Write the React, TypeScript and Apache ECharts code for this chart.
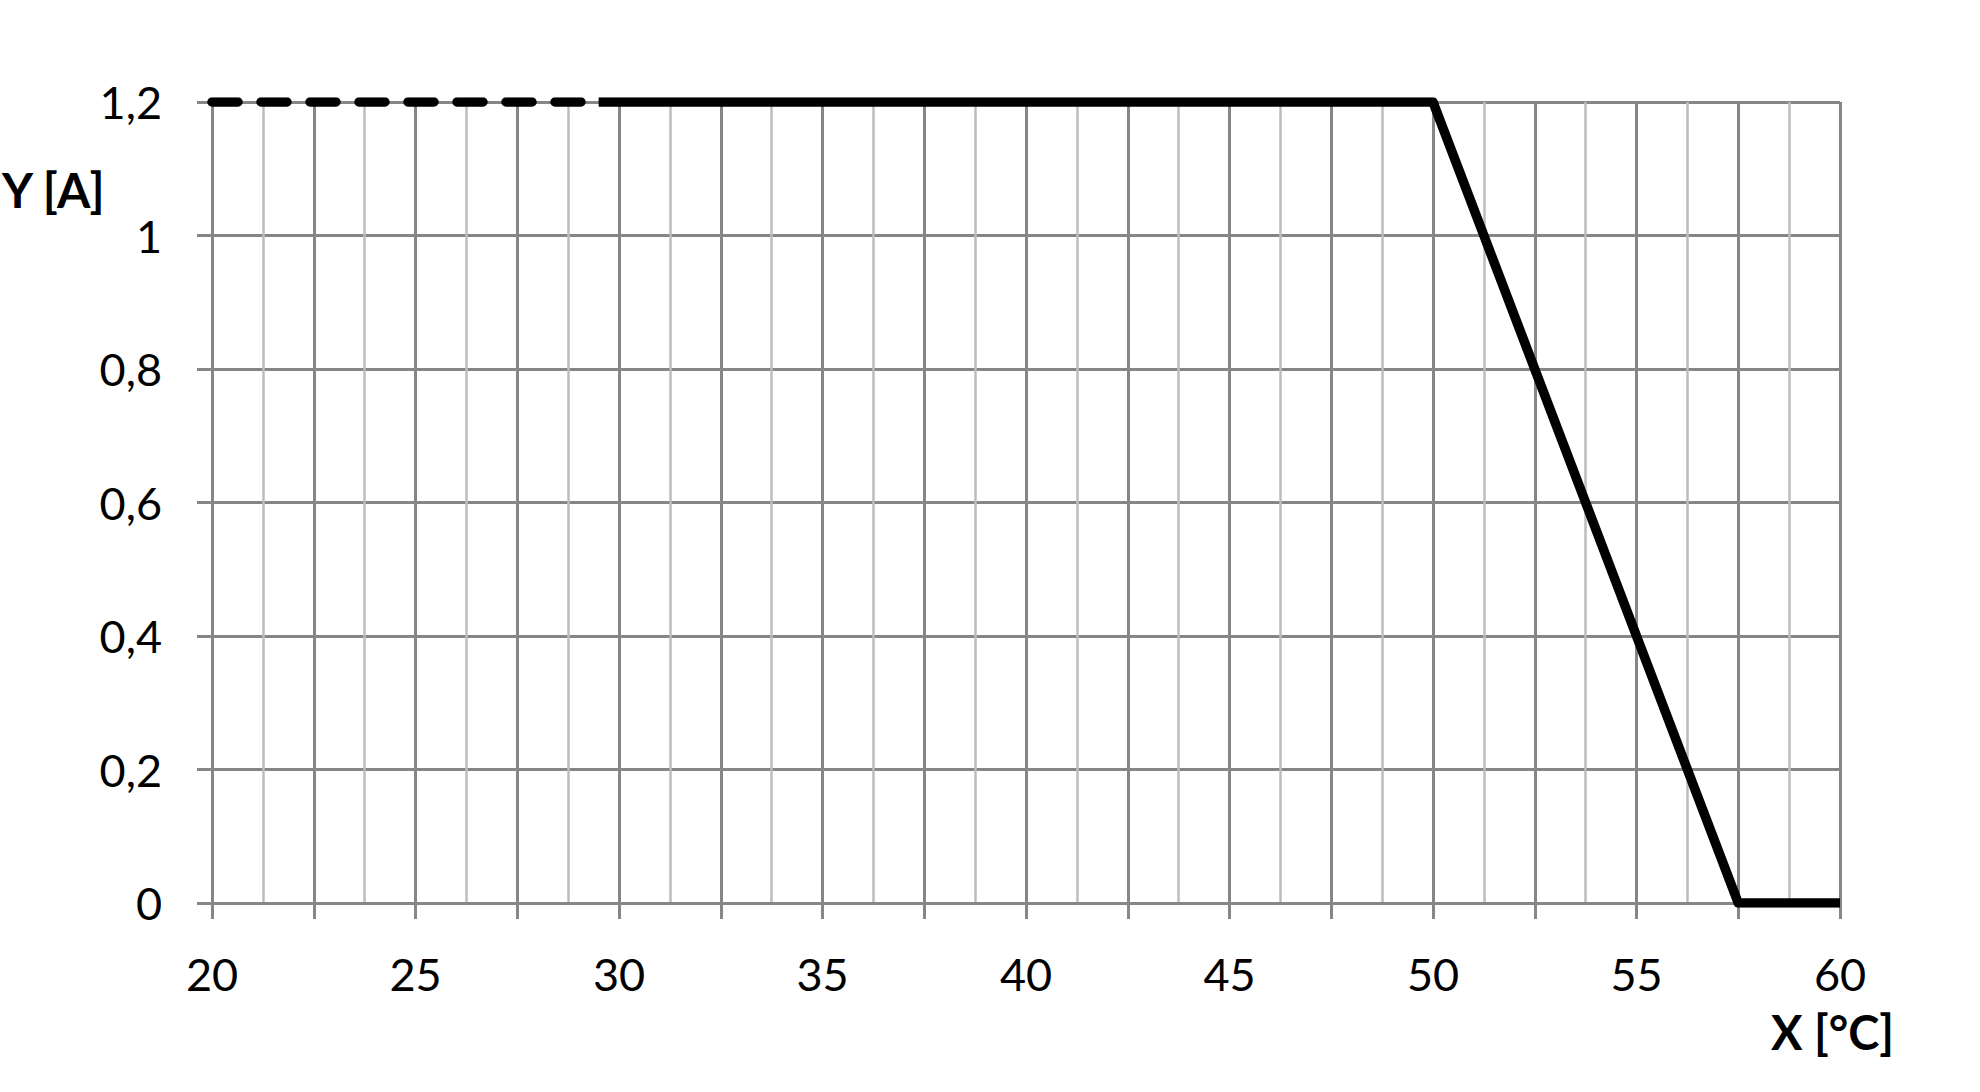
import React, { useEffect, useRef } from "react";
import * as echarts from "echarts";

// Data
const dashedX = [20, 29.5];
const dashedY = [1.2, 1.2];
const solidX = [29.5, 50, 57.5, 60];
const solidY = [1.2, 1.2, 0, 0];

const xLabels = ["20", "25", "30", "35", "40", "45", "50", "55", "60"];
const yLabels = ["0", "0,2", "0,4", "0,6", "0,8", "1", "1,2"];
const xAxisTitle = "X [°C]";
const yAxisTitle = "Y [A]";

const FONT = "Lato, 'Open Sans', sans-serif";
const DARK = "#868686";
const LIGHT = "#bdbdbd";

export default function App() {
  const ref = useRef<HTMLDivElement>(null);

  useEffect(() => {
    if (!ref.current) return;
    const chart = echarts.init(ref.current, undefined, { renderer: "svg" });
    const xLabelSet = new Set(xLabels);
    const option: any = {
      animation: false,
      backgroundColor: "#ffffff",
      grid: { left: 212, right: 140, top: 102, bottom: 189, containLabel: false },
      xAxis: {
        type: "value",
        min: 20,
        max: 60,
        interval: 2.5,
        axisLine: { show: true, lineStyle: { color: DARK, width: 3 } },
        axisTick: { show: true, length: 16, lineStyle: { color: DARK, width: 3 } },
        minorTick: { show: false, splitNumber: 2 },
        splitLine: { show: true, lineStyle: { color: DARK, width: 3 } },
        minorSplitLine: { show: true, lineStyle: { color: LIGHT, width: 2.5 } },
        axisLabel: {
          margin: 48,
          color: "#000",
          fontFamily: FONT,
          fontSize: 45,
          formatter: (v: number) => {
            const s = String(v);
            return xLabelSet.has(s) ? s : "";
          },
        },
      },
      yAxis: {
        type: "value",
        min: 0,
        max: 1.2,
        interval: 0.2,
        axisLine: { show: true, lineStyle: { color: DARK, width: 3 } },
        axisTick: { show: true, length: 15, lineStyle: { color: DARK, width: 3 } },
        splitLine: { show: true, lineStyle: { color: DARK, width: 3 } },
        axisLabel: {
          margin: 50,
          color: "#000",
          fontFamily: FONT,
          fontSize: 45,
          formatter: (v: number) => {
            const idx = Math.round(v / 0.2);
            return yLabels[idx] ?? "";
          },
        },
      },
      series: [
        {
          type: "line",
          data: dashedX.map((x, i) => [x, dashedY[i]]),
          showSymbol: false,
          symbol: "none",
          lineStyle: { color: "#000", width: 9.5, type: [26, 23], cap: "round" },
          z: 5,
        },
        {
          type: "line",
          data: solidX.map((x, i) => [x, solidY[i]]),
          showSymbol: false,
          symbol: "none",
          lineStyle: { color: "#000", width: 9.5, type: "solid", cap: "butt", join: "round" },
          z: 5,
        },
      ],
      graphic: [
        {
          type: "text",
          left: 2,
          top: 165,
          style: {
            text: yAxisTitle,
            fill: "#000",
            font: `bold 48px ${FONT}`,
          },
        },
        {
          type: "text",
          left: 1771,
          top: 1008,
          style: {
            text: xAxisTitle,
            fill: "#000",
            font: `bold 47px ${FONT}`,
          },
        },
      ],
    };
    chart.setOption(option);
    return () => chart.dispose();
  }, []);

  return (
    <div
      ref={ref}
      style={{ position: "absolute", left: 0, top: 0, width: 1980, height: 1092 }}
    />
  );
}
